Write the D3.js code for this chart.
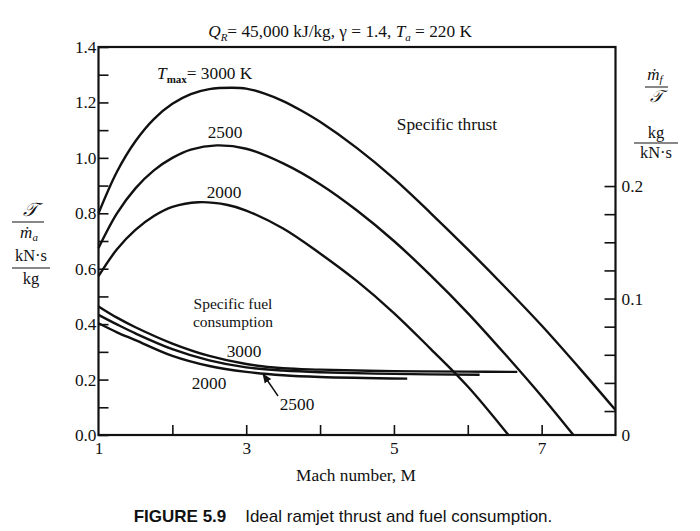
<!DOCTYPE html>
<html>
<head>
<meta charset="utf-8">
<script src="https://cdn.jsdelivr.net/npm/d3@7"></script>
<style>
  html, body { margin: 0; padding: 0; background: #fff; }
  svg text { font-family: "Liberation Serif", "Times New Roman", serif; fill: #111; }
</style>
</head>
<body>
<svg id="chart" width="700" height="531"></svg>
<script>
// ---------- data ----------
// Specific thrust T/m_a (kN·s/kg), left axis, vs Mach number
const thrustMach3000 = [1.0, 1.25, 1.5, 1.75, 2.0, 2.25, 2.5, 2.8, 3.0, 3.25, 3.5, 3.75, 4.0, 4.5, 5.0, 5.5, 6.0, 6.5, 7.0, 7.5, 8.0];
const thrust3000     = [0.80, 0.95, 1.06, 1.14, 1.195, 1.23, 1.248, 1.253, 1.25, 1.232, 1.205, 1.170, 1.130, 1.035, 0.925, 0.80, 0.67, 0.535, 0.395, 0.245, 0.09];
const thrustMach2500 = [1.0, 1.25, 1.5, 1.75, 2.0, 2.25, 2.6, 3.0, 3.5, 4.0, 4.5, 5.0, 5.5, 6.0, 6.5, 7.0, 7.43];
const thrust2500     = [0.675, 0.80, 0.89, 0.955, 1.0, 1.03, 1.045, 1.033, 0.98, 0.905, 0.81, 0.70, 0.575, 0.44, 0.293, 0.14, 0.0];
const thrustMach2000 = [1.0, 1.25, 1.5, 1.75, 2.0, 2.35, 2.75, 3.0, 3.5, 4.0, 4.5, 5.0, 5.5, 6.0, 6.55];
const thrust2000     = [0.573, 0.67, 0.74, 0.79, 0.823, 0.84, 0.83, 0.81, 0.745, 0.655, 0.555, 0.44, 0.31, 0.175, 0.0];

// Specific fuel consumption m_f/T (kg/kN·s), right axis, vs Mach number
const sfcMach3000 = [1.0, 1.25, 1.5, 2.0, 2.5, 3.0, 3.5, 4.0, 5.0, 6.0, 6.67];
const sfc3000     = [0.093, 0.083, 0.0745, 0.060, 0.049, 0.0418, 0.0380, 0.0368, 0.0355, 0.0350, 0.0348];
const sfcMach2500 = [1.0, 1.25, 1.5, 2.0, 2.5, 3.0, 3.5, 4.0, 5.0, 6.16];
const sfc2500     = [0.0855, 0.077, 0.069, 0.055, 0.045, 0.0388, 0.0360, 0.0345, 0.0330, 0.0322];
const sfcMach2000 = [1.0, 1.25, 1.5, 2.0, 2.5, 3.0, 3.5, 4.0, 5.18];
const sfc2000     = [0.078, 0.070, 0.063, 0.049, 0.040, 0.0348, 0.0318, 0.0303, 0.0288];

// Axis ticks
const xTicks = [1, 2, 3, 4, 5, 6, 7, 8];
const xTickLabels = [1, 3, 5, 7];
const leftTicks = [0, 0.1, 0.2, 0.3, 0.4, 0.5, 0.6, 0.7, 0.8, 0.9, 1.0, 1.1, 1.2, 1.3, 1.4];
const leftTickLabels = [0, 0.2, 0.4, 0.6, 0.8, 1.0, 1.2, 1.4];
const rightTicks = [0, 0.025, 0.05, 0.075, 0.1, 0.125, 0.15, 0.175, 0.2];
const rightTickLabels = [0.1, 0.2];

// ---------- layout ----------
const svg = d3.select("#chart");
const margin = { left: 98.5, top: 47 };
const W = 517, H = 388;
const g = svg.append("g").attr("transform", `translate(${margin.left},${margin.top})`);

const x = d3.scaleLinear().domain([1, 8]).range([0, W]);
const yL = d3.scaleLinear().domain([0, 1.4]).range([H, 0]);
const yR = d3.scaleLinear().domain([-0.0213, 0.3236]).range([H, 0]);

const FS = 17.3;

// ---------- axes ----------
const fmtLeft = d => leftTickLabels.some(v => Math.abs(v - d) < 1e-9) ? d3.format(".1f")(d) : "";
const fmtX = d => xTickLabels.includes(d) ? String(d) : "";
const fmtRight = d => rightTickLabels.some(v => Math.abs(v - d) < 1e-9) ? d3.format(".1f")(d) : "";

const axL = g.append("g")
  .call(d3.axisLeft(yL).tickValues(leftTicks).tickFormat(fmtLeft).tickSize(-10).tickSizeOuter(0).tickPadding(2));
const axB = g.append("g").attr("transform", `translate(0,${H})`)
  .call(d3.axisBottom(x).tickValues(xTicks).tickFormat(fmtX).tickSize(-10).tickSizeOuter(0).tickPadding(4));
const axR = g.append("g").attr("transform", `translate(${W},0)`)
  .call(d3.axisRight(yR).tickValues(rightTicks).tickFormat(fmtRight).tickSize(-11).tickSizeOuter(0).tickPadding(6));

[axL, axB, axR].forEach(a => {
  a.select(".domain").remove();
  a.selectAll(".tick line").attr("stroke", "#111").attr("stroke-width", 1.6);
  a.selectAll(".tick text").attr("font-size", FS).attr("font-family", "Liberation Serif").attr("fill", "#111");
});
axB.selectAll(".tick text").attr("dy", "0.85em");
axB.selectAll(".tick").filter(d => d === 1 || d === 8).select("line").remove();

// "0" label at bottom of right axis
g.append("text").attr("x", W + 6).attr("y", H).attr("dy", "0.35em")
  .attr("font-size", FS).text("0");

// frame
g.append("rect").attr("x", 0).attr("y", 0).attr("width", W).attr("height", H)
  .attr("fill", "none").attr("stroke", "#111").attr("stroke-width", 2.2);

// ---------- curves ----------
const lineL = d3.line().x(d => x(d[0])).y(d => yL(d[1])).curve(d3.curveCatmullRom.alpha(0.5));
const lineR = d3.line().x(d => x(d[0])).y(d => yR(d[1])).curve(d3.curveCatmullRom.alpha(0.5));

const thrustSeries = [
  [thrustMach3000, thrust3000],
  [thrustMach2500, thrust2500],
  [thrustMach2000, thrust2000]
];
const sfcSeries = [
  [sfcMach3000, sfc3000],
  [sfcMach2500, sfc2500],
  [sfcMach2000, sfc2000]
];

thrustSeries.forEach(([m, v]) => {
  g.append("path").datum(m.map((mm, i) => [mm, v[i]]))
    .attr("d", lineL).attr("fill", "none").attr("stroke", "#111").attr("stroke-width", 2.4);
});
sfcSeries.forEach(([m, v]) => {
  g.append("path").datum(m.map((mm, i) => [mm, v[i]]))
    .attr("d", lineR).attr("fill", "none").attr("stroke", "#111").attr("stroke-width", 2.4);
});

// ---------- annotations ----------
function txt(xp, yp, size, anchor) {
  return svg.append("text").attr("x", xp).attr("y", yp).attr("font-size", size).attr("text-anchor", anchor || "start");
}

// Title
const title = txt(340, 37, FS, "middle");
title.append("tspan").attr("font-style", "italic").text("Q");
title.append("tspan").attr("font-style", "italic").attr("font-size", 11).attr("dy", 4).text("R");
title.append("tspan").attr("dy", -4).text("= 45,000  kJ/kg, γ = 1.4, ");
title.append("tspan").attr("font-style", "italic").text("T");
title.append("tspan").attr("font-style", "italic").attr("font-size", 11).attr("dy", 4).text("a");
title.append("tspan").attr("dy", -4).text(" = 220 K");

// Tmax label
const tmax = txt(157, 79, FS);
tmax.append("tspan").attr("font-style", "italic").text("T");
tmax.append("tspan").attr("font-size", 11).attr("font-weight", "bold").attr("dy", 4).text("max");
tmax.append("tspan").attr("dy", -4).text("= 3000 K");

txt(225, 138, FS, "middle").text("2500");
txt(224, 198, FS, "middle").text("2000");
txt(447, 130, FS, "middle").text("Specific thrust");
txt(233, 309, 15.5, "middle").text("Specific fuel");
txt(233, 327, 15.5, "middle").text("consumption");
txt(244, 357, FS, "middle").text("3000");
txt(209, 389, FS, "middle").text("2000");
txt(297, 410, FS, "middle").text("2500");

// arrow to 2500 SFC curve
svg.append("defs").append("marker").attr("id", "ah").attr("viewBox", "0 0 10 10")
  .attr("refX", 9).attr("refY", 5).attr("markerWidth", 7).attr("markerHeight", 7).attr("orient", "auto")
  .append("path").attr("d", "M0,1 L10,5 L0,9 Z").attr("fill", "#111");
svg.append("line").attr("x1", 278).attr("y1", 396).attr("x2", 263).attr("y2", 374)
  .attr("stroke", "#111").attr("stroke-width", 1.4).attr("marker-end", "url(#ah)");

// Left axis label
txt(30, 216, 19, "middle").attr("font-style", "italic").text("𝒯");
svg.append("line").attr("x1", 12).attr("x2", 44).attr("y1", 222).attr("y2", 222).attr("stroke", "#111").attr("stroke-width", 1);
const ma = txt(29, 238, 17, "middle");
ma.append("tspan").attr("font-style", "italic").text("ṁ");
ma.append("tspan").attr("font-style", "italic").attr("font-size", 11).attr("dy", 3).text("a");
txt(31, 261, 16.5, "middle").text("kN·s");
svg.append("line").attr("x1", 12).attr("x2", 50).attr("y1", 268).attr("y2", 268).attr("stroke", "#111").attr("stroke-width", 1);
txt(31, 284, 16.5, "middle").text("kg");

// Right axis label
const mf = txt(655, 80, 17, "middle");
mf.append("tspan").attr("font-style", "italic").text("ṁ");
mf.append("tspan").attr("font-style", "italic").attr("font-size", 11).attr("dy", 3).text("f");
svg.append("line").attr("x1", 645).attr("x2", 668).attr("y1", 87).attr("y2", 87).attr("stroke", "#111").attr("stroke-width", 1);
txt(656, 102, 17, "middle").attr("font-style", "italic").text("𝒯");
txt(656, 138, 16.5, "middle").text("kg");
svg.append("line").attr("x1", 634).attr("x2", 678).attr("y1", 143).attr("y2", 143).attr("stroke", "#111").attr("stroke-width", 1);
txt(656, 158, 16.5, "middle").text("kN·s");

// X axis title
txt(356, 481, FS, "middle").text("Mach number, M");

// Caption
const cap = svg.append("text").attr("x", 343).attr("y", 522).attr("text-anchor", "middle")
  .attr("font-size", 17).style("font-family", "'Liberation Sans', Arial, sans-serif");
cap.append("tspan").attr("font-weight", "bold").text("FIGURE 5.9");
cap.append("tspan").text("    Ideal ramjet thrust and fuel consumption.").attr("xml:space", "preserve");
</script>
</body>
</html>
